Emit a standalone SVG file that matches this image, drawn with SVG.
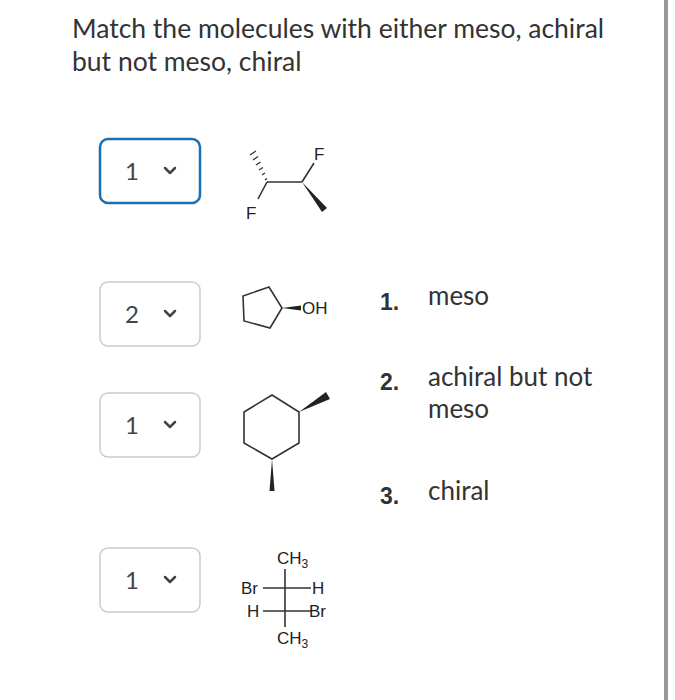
<svg xmlns="http://www.w3.org/2000/svg" width="675" height="700" viewBox="0 0 675 700">
<style>
.t{font-family:Lato,"Liberation Sans",sans-serif;fill:#333}
.b{fill:#fff;stroke:#ccc;stroke-width:1.5}
.v{font-family:Lato,sans-serif;font-size:24px;fill:#444}
.ch{fill:none;stroke:#444;stroke-width:2.5;stroke-linecap:round;stroke-linejoin:round}
.m{font-family:"Liberation Sans",Arial,sans-serif;font-size:17px;fill:#222}
.bd{fill:none;stroke:#333;stroke-width:1.6}
</style>
<rect width="675" height="700" fill="#fff"/>
<rect x="664" y="0" width="4" height="700" fill="#999"/>
<text class="t" x="72" y="38" font-size="26.5">Match the molecules with either meso, achiral</text>
<text class="t" x="72" y="71" font-size="26.5">but not meso, chiral</text>
<g id="sel1"><rect x="100" y="139" width="100" height="64" rx="8" fill="#fff" stroke="#1a6fb0" stroke-width="2.5"/><text class="v" x="125" y="180">1</text><path class="ch" d="M165 168l5 5 5-5"/></g>
<g id="sel2"><rect class="b" x="100" y="282" width="100" height="64" rx="8"/><text class="v" x="125" y="323">2</text><path class="ch" d="M165 311l5 5 5-5"/></g>
<g id="sel3"><rect class="b" x="100" y="393" width="100" height="64" rx="8"/><text class="v" x="125" y="434">1</text><path class="ch" d="M165 422l5 5 5-5"/></g>
<g id="sel4"><rect class="b" x="100" y="548" width="100" height="64" rx="8"/><text class="v" x="125" y="589">1</text><path class="ch" d="M165 577l5 5 5-5"/></g>
<g id="mol1">
<path class="bd" d="M267 182H302M267 182L258 199M302 182L314 163"/>
<path d="M302 182L322 212L327 208Z" fill="#222"/>
<g stroke="#333" stroke-width="1.3"><path d="M265 180l2 -1.5M262 175l3 -2M259 170l4 -2.5M256 165l4.5 -3M253 160l5 -3.5M250 155l6 -4"/></g>
<text class="m" x="314" y="160">F</text><text class="m" x="246" y="219">F</text>
</g>
<g id="mol2">
<path class="bd" d="M269 287L243 296L244 321L270 328L282 308Z"/>
<path d="M282 308L301 305.5L301 310.5Z" fill="#222"/>
<text class="m" x="302" y="314">OH</text>
</g>
<g id="mol3">
<path class="bd" d="M272 395L299 412L299 443L272 459L244 443L244 412Z"/>
<path d="M299 412L326 392L330 399Z" fill="#222"/>
<path d="M272 459L269.5 491L274.5 491Z" fill="#222"/>
</g>
<g id="mol4">
<path class="bd" d="M285 569V627M263 588H311M263 611H311"/>
<text class="m" x="277" y="564">CH<tspan font-size="12" dy="4">3</tspan></text>
<text class="m" x="241" y="594">Br</text><text class="m" x="312" y="594">H</text>
<text class="m" x="247" y="617">H</text><text class="m" x="309" y="617">Br</text>
<text class="m" x="277" y="644">CH<tspan font-size="12" dy="4">3</tspan></text>
</g>
<g id="legend" class="t" font-size="26">
<text x="380" y="310" font-weight="bold" font-family="Liberation Sans,sans-serif" font-size="23">1.</text><text x="428" y="305">meso</text>
<text x="380" y="390" font-weight="bold" font-family="Liberation Sans,sans-serif" font-size="23">2.</text><text x="428" y="386">achiral but not</text><text x="428" y="418">meso</text>
<text x="380" y="504" font-weight="bold" font-family="Liberation Sans,sans-serif" font-size="23">3.</text><text x="428" y="500">chiral</text>
</g>
</svg>
